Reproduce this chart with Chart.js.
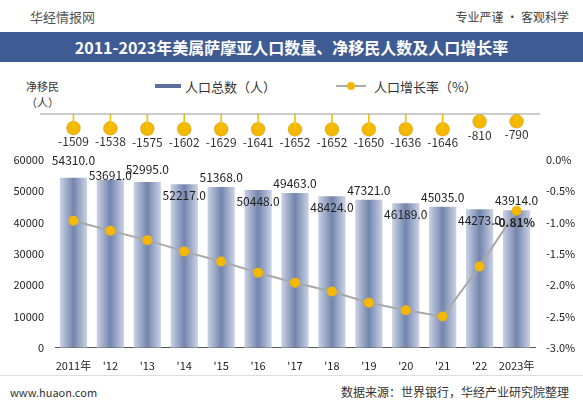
<!DOCTYPE html>
<html><head><meta charset="utf-8">
<script src="https://cdn.jsdelivr.net/npm/chart.js@4"></script>
<style>
body{margin:0;width:583px;height:405px;background:#fff;font-family:"Noto Sans CJK SC",sans-serif;position:relative;overflow:hidden}
#hdr{position:absolute;left:0;top:0;width:583px;height:32px}
#logo{position:absolute;left:30px;top:7px;font-size:13px;color:#555}
#slogan{position:absolute;right:14px;top:8px;font-size:12px;color:#444}
#title{position:absolute;left:0;top:32px;width:583px;height:30px;background:#3f5b93;color:#fff;font-size:16px;font-weight:bold;text-align:center;line-height:30px}
#ylab{position:absolute;left:26px;top:78px;font-size:11px;color:#333;text-align:center;line-height:16px}
#legend{position:absolute;left:155px;top:75px;font-size:13px;color:#333}
#legend span{display:inline-block;vertical-align:middle}
#mig{position:absolute;left:0;top:105px}
#main{position:absolute;left:0;top:150px}
#foot{position:absolute;left:0;top:375px;width:583px;height:30px;border-top:1px solid #ddd}
#url{position:absolute;left:10px;top:8px;font-size:11px;color:#333}
#src{position:absolute;right:14px;top:7px;font-size:12px;color:#333}
</style></head><body>
<div id="hdr"><div id="logo">华经情报网</div><div id="slogan">专业严谨 • 客观科学</div></div>
<div id="title">2011-2023年美属萨摩亚人口数量、净移民人数及人口增长率</div>
<div id="ylab">净移民<br>（人）</div>
<div id="legend"><span style="width:26px;height:4px;background:#5e6f99;margin-right:4px"></span><span>人口总数（人）</span><span style="width:60px"></span><span style="position:relative;width:30px;height:2px;background:#aaa;margin-right:8px"><i style="position:absolute;left:11px;top:-3px;width:8px;height:8px;border-radius:4px;background:#f5b800"></i></span><span>人口增长率（%）</span></div>
<canvas id="mig" width="583" height="45"></canvas>
<canvas id="main" width="583" height="225"></canvas>
<div id="foot"><div id="url">www.huaon.com</div><div id="src">数据来源：世界银行，华经产业研究院整理</div></div>
<script>
const years = ['2011年', "'12", "'13", "'14", "'15", "'16", "'17", "'18", "'19", "'20", "'21", "'22", '2023年'];
const population = [54310, 53691, 52995, 52217, 51368, 50448, 49463, 48424, 47321, 46189, 45035, 44273, 43914];
const netMigration = [-1509, -1538, -1575, -1602, -1629, -1641, -1652, -1652, -1650, -1636, -1646, -810, -790];
const growthRate = [-0.97, -1.13, -1.28, -1.46, -1.62, -1.80, -1.96, -2.10, -2.28, -2.40, -2.50, -1.70, -0.81];
const leftTicks = [0, 10000, 20000, 30000, 40000, 50000, 60000];

const LEFT = 55, RIGHT = 48;
const fixL = ax => { ax.width = LEFT; };
const fixR = ax => { ax.width = RIGHT; };
const font = {family: '"Noto Sans CJK SC", sans-serif', size: 11};

new Chart(document.getElementById('mig'), {
  data: {
    labels: years,
    datasets: [
      {type: 'bar', data: netMigration, backgroundColor: '#f5c400', barThickness: 1},
      {type: 'scatter', data: netMigration.map((v, i) => ({x: i, y: v})), backgroundColor: '#f5b800', pointRadius: 7, pointHoverRadius: 7}
    ]
  },
  options: {
    responsive: false, animation: false,
    layout: {padding: {top: 9, bottom: 0}},
    plugins: {legend: {display: false}, tooltip: {enabled: false}},
    scales: {
      x: {type: 'category', display: true, grid: {display: false}, border: {display: false}, ticks: {display: false}, offset: true},
      y: {min: -3000, max: 0, afterFit: fixL, grid: {display: false}, border: {display: false}, ticks: {display: false}},
      y2: {position: 'right', afterFit: fixR, grid: {display: false}, border: {display: false}, ticks: {display: false}}
    }
  },
  plugins: [{
    id: 'migLabels',
    afterDatasetsDraw(c) {
      const ctx = c.ctx, y = c.scales.y, x = c.scales.x;
      ctx.save();
      ctx.strokeStyle = '#999'; ctx.lineWidth = 1;
      ctx.beginPath(); ctx.moveTo(x.left - 15, y.getPixelForValue(0)); ctx.lineTo(x.right + 5, y.getPixelForValue(0)); ctx.stroke();
      ctx.fillStyle = '#333'; ctx.font = '12px "Noto Sans CJK SC"'; ctx.textAlign = 'center';
      netMigration.forEach((v, i) => ctx.fillText(v, x.getPixelForValue(i), y.getPixelForValue(v) + 18));
      ctx.restore();
    }
  }]
});

function barFill(c) {
  const xs = c.chart.scales.x;
  const cx = xs ? xs.getPixelForValue(c.dataIndex) : NaN;
  if (!isFinite(cx)) return '#8c9cc0';
  const w = 30, x0 = cx - w / 2;
  const g = c.chart.ctx.createLinearGradient(x0, 0, x0 + w, 0);
  g.addColorStop(0, '#d3daea'); g.addColorStop(0.5, '#7385ad'); g.addColorStop(1, '#d3daea');
  return g;
}

new Chart(document.getElementById('main'), {
  data: {
    labels: years,
    datasets: [
      {type: 'line', data: growthRate, yAxisID: 'y2', borderColor: '#a8a8a8', borderWidth: 2, pointBackgroundColor: '#f5b800', pointBorderColor: '#f5b800', pointRadius: 4, tension: 0},
      {type: 'bar', data: population, yAxisID: 'y', backgroundColor: barFill, categoryPercentage: 0.82, barPercentage: 0.9}
    ]
  },
  options: {
    responsive: false, animation: false,
    layout: {padding: {top: 10, right: 0}},
    plugins: {legend: {display: false}, tooltip: {enabled: false}},
    scales: {
      x: {grid: {display: false}, border: {color: '#555'}, ticks: {color: '#222', font: font, maxRotation: 0, autoSkip: false}},
      y: {min: 0, max: 60000, afterFit: fixL, afterBuildTicks: ax => { ax.ticks = leftTicks.map(v => ({value: v})); },
          grid: {display: false}, border: {display: false}, ticks: {color: '#222', font: font, callback: v => String(v)}},
      y2: {position: 'right', min: -3, max: 0, afterFit: fixR, grid: {display: false}, border: {display: false},
           ticks: {stepSize: 0.5, color: '#222', font: font, callback: v => v.toFixed(1) + '%'}}
    }
  },
  plugins: [{
    id: 'labels',
    afterDatasetsDraw(c) {
      const ctx = c.ctx, meta = c.getDatasetMeta(1), lm = c.getDatasetMeta(0);
      ctx.save(); ctx.textAlign = 'center'; ctx.fillStyle = '#222'; ctx.font = '12px "Noto Sans CJK SC"';
      meta.data.forEach((el, i) => {
        let dy;
        if (i === 0) dy = -13;
        else if (i <= 2) dy = i === 1 ? 0 : -8;
        else dy = i % 2 === 0 ? -5 : 16;
        ctx.fillText(population[i].toFixed(1), el.x, el.y + dy);
      });
      const last = lm.data[lm.data.length - 1];
      ctx.font = 'bold 12px "Noto Sans CJK SC"';
      ctx.fillText(growthRate[growthRate.length - 1].toFixed(2) + '%', last.x - 2, last.y + 16);
      ctx.restore();
    }
  }]
});
</script>
</body></html>
